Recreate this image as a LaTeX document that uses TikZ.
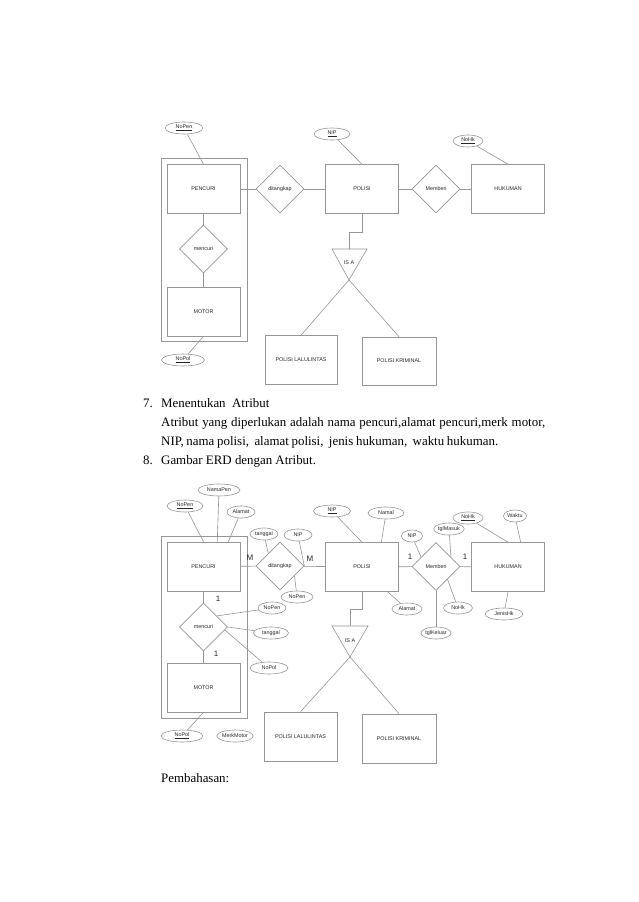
\documentclass[tikz,border=0pt]{standalone}
\usepackage{fontspec}
\setmainfont{Liberation Serif}
\newfontfamily\diagfont{Liberation Sans}
\usetikzlibrary{shapes.geometric}
\definecolor{lgray}{RGB}{150,150,150}
\definecolor{dtext}{RGB}{40,40,40}
\tikzset{
  ln/.style={draw=lgray, line width=0.6pt},
  ent/.style={rectangle, draw=lgray, line width=0.6pt, minimum width=73pt, minimum height=49pt, inner sep=0pt, text=dtext, font=\diagfont\fontsize{5.4}{6}\selectfont},
  rel/.style={diamond, draw=lgray, line width=0.6pt, minimum width=48pt, minimum height=48pt, inner sep=0pt, aspect=1, text=dtext, font=\diagfont\fontsize{5.4}{6}\selectfont},
  attr/.style={ellipse, draw=lgray, line width=0.6pt, minimum height=12pt, inner sep=0pt, text=dtext, font=\diagfont\fontsize{5.4}{6}\selectfont},
  aggbox/.style={rectangle, draw=lgray, line width=0.6pt, inner sep=0pt},
  lbl/.style={inner sep=0pt, text=dtext, font=\diagfont\fontsize{5.4}{6}\selectfont},
  card/.style={inner sep=0pt, text=dtext, font=\diagfont\fontsize{8}{9}\selectfont},
  body/.style={anchor=base west, inner sep=0pt, font=\fontsize{12.9}{19}\selectfont},
}
\begin{document}
\begin{tikzpicture}[x=1pt,y=-1pt]
\fill[white] (0,0) rectangle (638,902);
\useasboundingbox (0,0) rectangle (638,902);

% ================= Diagram 1 =================
\node[aggbox, minimum width=86pt, minimum height=183pt] (agg1) at (204,249.5) {};
\node[ent] (pencuri1) at (203.5,189) {PENCURI};
\node[attr, minimum width=38pt] (nopen1) at (184,128) {\underline{NoPen}};
\node[rel] (ditangkap1) at (280,189) {ditangkap};
\node[ent] (polisi1) at (362,189) {POLISI};
\node[attr, minimum width=36pt] (nip1) at (332,134) {\underline{NIP}};
\node[rel] (memberi1) at (436,189) {Memberi};
\node[ent] (hukuman1) at (508,189) {HUKUMAN};
\node[attr, minimum width=30pt] (nohk1) at (468,141) {\underline{NoHk}};
\node[rel] (mencuri1) at (203.5,249) {mencuri};
\node[ent] (motor1) at (203.5,311.5) {MOTOR};
\node[attr, minimum width=43pt] (nopol1) at (183,360) {\underline{NoPol}};
\node[ent, minimum width=72pt] (lalu1) at (301,360) {POLISI LALULINTAS};
\node[ent, minimum width=74pt, minimum height=48pt] (krim1) at (399,361) {POLISI KRIMINAL};
\coordinate (isa1l) at (332,249);
\coordinate (isa1r) at (367,249);
\coordinate (isa1top) at (349,249);
\coordinate (isa1apex) at (349,280);
\draw[ln] (isa1l) -- (isa1r) -- (isa1apex) -- cycle;
\node[lbl] (isa1) at (349,263) {IS A};

\draw[ln] (nopen1) -- (pencuri1.north);
\draw[ln] (pencuri1) -- (ditangkap1);
\draw[ln] (ditangkap1) -- (polisi1);
\draw[ln] (polisi1) -- (memberi1);
\draw[ln] (memberi1) -- (hukuman1);
\draw[ln] (nip1) -- (polisi1.north);
\draw[ln] (nohk1) -- (hukuman1.north);
\draw[ln] (pencuri1) -- (mencuri1);
\draw[ln] (mencuri1) -- (motor1);
\draw[ln] (motor1.south) -- (nopol1);
\draw[ln] (polisi1.south) -- ++(0,18) -| (isa1top);
\draw[ln] (isa1apex) -- (lalu1.north);
\draw[ln] (isa1apex) -- (krim1.north);

% ================= Text =================
\node[body] (t7) at (143,407) {7.};
\node[body] (t7a) at (161,407) {Menentukan\ \ Atribut};
\node[body] (t7b) at (161,426) {\makebox[384pt][s]{Atribut yang diperlukan adalah nama pencuri,alamat pencuri,merk motor,}};
\node[body] (t7c) at (161,445) {\makebox[337pt][s]{NIP, nama polisi,\ \ alamat polisi,\ \ jenis hukuman,\ \ waktu hukuman.}};
\node[body] (t8) at (143,464) {8.};
\node[body] (t8a) at (161,464) {Gambar ERD dengan Atribut.};
\node[body] (tp) at (161,782) {Pembahasan:};

% ================= Diagram 2 =================
\node[aggbox, minimum width=86pt, minimum height=182pt] (agg2) at (204,627) {};
\node[ent] (pencuri2) at (203.5,566.5) {PENCURI};
\node[attr, minimum width=42pt] (namapen2) at (219,490) {NamaPen};
\node[attr, minimum width=36pt] (nopen2) at (185,506) {\underline{NoPen}};
\node[attr, minimum width=28pt] (alamat2) at (241,512) {Alamat};
\node[rel] (ditangkap2) at (280,566) {ditangkap};
\node[attr, minimum width=28pt] (tanggal2) at (264,534) {tanggal};
\node[attr, minimum width=28pt] (nip2) at (298,535) {NIP};
\node[attr, minimum width=32pt] (nopen3) at (297,597) {NoPen};
\node[ent] (polisi2) at (362,567) {POLISI};
\node[attr, minimum width=37pt] (nip3) at (332,511) {\underline{NIP}};
\node[attr, minimum width=36pt] (namal2) at (386,513) {Namal};
\node[attr, minimum width=30pt] (alamat3) at (407,609) {Alamat};
\node[rel] (memberi2) at (436,566.5) {Memberi};
\node[ent] (hukuman2) at (508,567) {HUKUMAN};
\node[attr, minimum width=21pt] (nip4) at (412,536) {NIP};
\node[attr, minimum width=29pt] (tglmasuk2) at (449,529) {tglMasuk};
\node[attr, minimum width=30pt] (nohk2) at (468,518) {\underline{NoHk}};
\node[attr, minimum width=23pt] (waktu2) at (515,516) {Waktu};
\node[attr, minimum width=38pt] (jenishk2) at (504,614) {JenisHk};
\node[attr, minimum width=29pt] (nohk3) at (458,608) {NoHk};
\node[attr, minimum width=30pt] (tglkeluar2) at (436,633) {tglKeluar};
\node[rel] (mencuri2) at (203.5,627) {mencuri};
\node[attr, minimum width=28pt] (nopen4) at (272,608) {NoPen};
\node[attr, minimum width=35pt] (tanggal3) at (271,633) {tanggal};
\node[attr, minimum width=38pt] (nopol3) at (269,668) {NoPol};
\node[ent] (motor2) at (203.5,687.5) {MOTOR};
\node[attr, minimum width=42pt] (nopol4) at (182,736) {\underline{NoPol}};
\node[attr, minimum width=34pt] (merkmotor2) at (235,736) {MerkMotor};
\node[ent] (lalu2) at (300.5,736.5) {POLISI LALULINTAS};
\node[ent, minimum width=74pt] (krim2) at (399,738.5) {POLISI KRIMINAL};
\coordinate (isa2l) at (332,626);
\coordinate (isa2r) at (368,626);
\coordinate (isa2top) at (350,626);
\coordinate (isa2apex) at (350,657);
\draw[ln] (isa2l) -- (isa2r) -- (isa2apex) -- cycle;
\node[lbl] (isa2) at (350,641) {IS A};

\node[card] (m1) at (250,558) {M};
\node[card] (m2) at (310,559) {M};
\node[card] (c1) at (410,557) {1};
\node[card] (c2) at (465,557) {1};
\node[card] (c3) at (218,599) {1};
\node[card] (c4) at (216,654) {1};

\draw[ln] (nopen2) -- (pencuri2.north);
\draw[ln] (namapen2) -- (pencuri2.61);
\draw[ln] (alamat2) -- (pencuri2.45);
\draw[ln] (pencuri2) -- (ditangkap2);
\draw[ln] (ditangkap2) -- (polisi2);
\draw[ln] (tanggal2) -- (ditangkap2.133);
\draw[ln] (nip2) -- (ditangkap2.east);
\draw[ln] (nopen3) -- (ditangkap2.-34);
\draw[ln] (nip3) -- (polisi2.north);
\draw[ln] (namal2) -- (polisi2.52);
\draw[ln] (alamat3) -- (polisi2.-44);
\draw[ln] (polisi2) -- (memberi2);
\draw[ln] (memberi2) -- (hukuman2);
\draw[ln] (nip4) -- (memberi2.148);
\draw[ln] (tglmasuk2) -- (memberi2.32);
\draw[ln] (nohk2) -- (hukuman2.north);
\draw[ln] (waktu2) -- (hukuman2.63);
\draw[ln] (jenishk2) -- (hukuman2.south);
\draw[ln] (nohk3) -- (memberi2.-48);
\draw[ln] (memberi2.south) -- (tglkeluar2.north);
\draw[ln] (polisi2.south) -- ++(0,17) -| (isa2top);
\draw[ln] (isa2apex) -- (lalu2.north);
\draw[ln] (isa2apex) -- (krim2.north);
\draw[ln] (pencuri2) -- (mencuri2);
\draw[ln] (mencuri2) -- (motor2);
\draw[ln] (nopen4) -- (mencuri2.40);
\draw[ln] (tanggal3) -- (mencuri2.east);
\draw[ln] (nopol3) -- (mencuri2.-8);
\draw[ln] (motor2.south) -- (nopol4);
\end{tikzpicture}
\end{document}
